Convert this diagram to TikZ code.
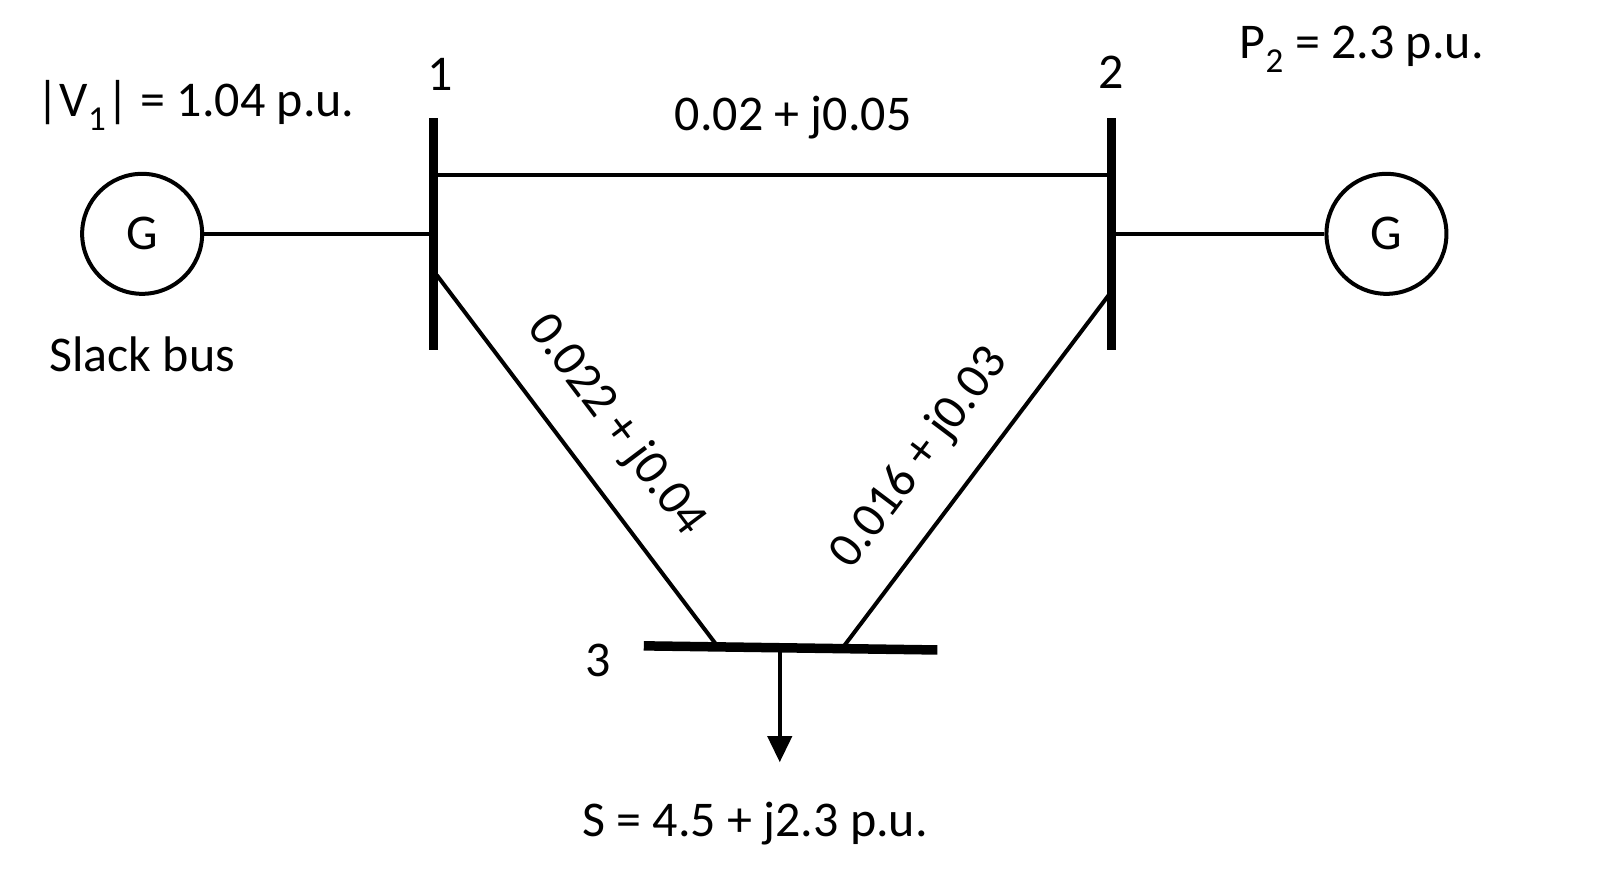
\documentclass[tikz,border=0pt]{standalone}
\usepackage{fontspec}
\setmainfont{Carlito}
\usetikzlibrary{arrows.meta}
\begin{document}
\begin{tikzpicture}[x=1.03pt,y=-1.03pt,
  lbl/.style={font=\fontsize{50}{54}\selectfont, inner sep=0},
  busbar/.style={line width=9.5pt},
  wire/.style={line width=4pt},
  gen/.style={circle,draw,line width=4pt,minimum size=120pt,inner sep=0,font=\fontsize{50}{54}\selectfont}]
\useasboundingbox (0,0) rectangle (1564,844);
\node[gen] (g1) at (138,227) {G};
\node[gen] (g2) at (1346,227) {G};
\coordinate (b1t) at (421,115); \coordinate (b1b) at (421,340);
\coordinate (b2t) at (1079,115); \coordinate (b2b) at (1079,340);
\coordinate (b3l) at (625,627); \coordinate (b3r) at (910,631);
\draw[busbar] (b1t) -- (b1b);
\draw[busbar] (b2t) -- (b2b);
\draw[busbar] (b3l) -- (b3r);
\coordinate (b1g) at (421,227); \coordinate (b2g) at (1079,227);
\draw[wire] (g1.east) -- (b1g);
\draw[wire] (g2.west) -- (b2g);
\coordinate (a12) at (421,170); \coordinate (c12) at (1079,170);
\draw[wire] (a12) -- (c12);
\coordinate (a13) at (424,267); \coordinate (c13) at (697,628);
\draw[wire] (a13) -- (c13);
\coordinate (a23) at (1079,283); \coordinate (c23) at (818,629);
\draw[wire] (a23) -- (c23);
\coordinate (ld0) at (757,629); \coordinate (ld1) at (757,740);
\draw[wire,-{Triangle[length=26pt,width=24pt]}] (ld0) -- (ld1);
\node[lbl] (n1) at (427,72) {1};
\node[lbl] (n2) at (1079,70) {2};
\node[lbl] (n3) at (581,641) {3};
\node[lbl] (v1) at (190,102) {|V\textsubscript{1}| = 1.04 p.u.};
\node[lbl] (p2) at (1322,48) {P\textsubscript{2} = 2.3 p.u.};
\node[lbl] (z12) at (770,114) {0.02 + j0.05};
\node[lbl] (sl) at (138,344) {Slack bus};
\node[lbl] (s3) at (733,800) {S = 4.5 + j2.3 p.u.};
\node[lbl,rotate=-53] (z13) at (598,413) {0.022 + j0.04};
\node[lbl,rotate=53] (z23) at (893,445) {0.016 + j0.03};
\end{tikzpicture}
\end{document}
